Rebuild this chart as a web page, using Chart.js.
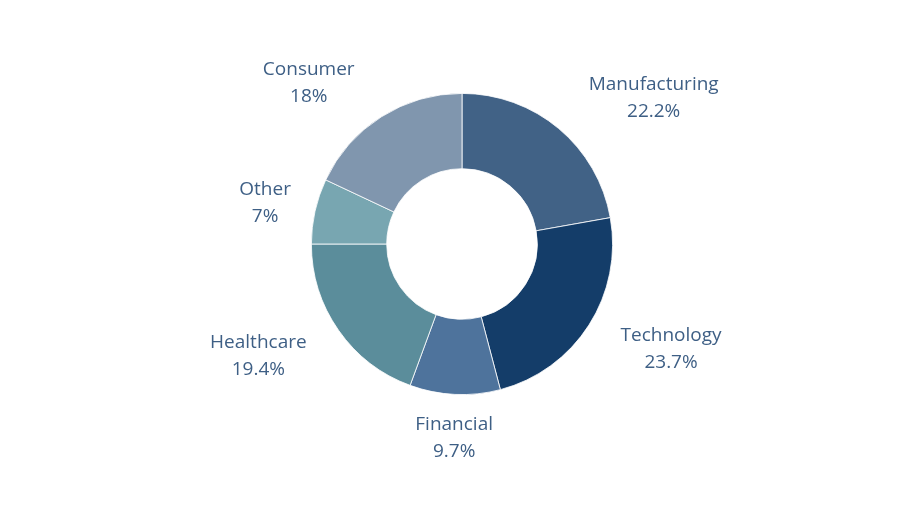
<!DOCTYPE html>
<html>
<head>
<meta charset="utf-8">
<script src="https://cdn.jsdelivr.net/npm/chart.js@4/dist/chart.umd.min.js"></script>
<style>
    html, body { margin: 0; padding: 0; background: #fff; }
    #wrap { width: 908px; height: 511px; }
</style>
</head>
<body>
<div id="wrap"><canvas id="pieChart" width="908" height="511"></canvas></div>
<script>
var sectors = ['Manufacturing', 'Technology', 'Financial', 'Healthcare', 'Other', 'Consumer'];
var shares = [22.2, 23.7, 9.7, 19.4, 7, 18];
var colors = ['#416286', '#143d69', '#4e739c', '#5b8d9b', '#78a6b1', '#8096ae'];
var textColor = '#3e5f85';

// outside labels, placed along each slice's middle angle
var outsideLabels = {
    id: 'outsideLabels',
    afterDatasetsDraw: function (chart) {
        let ctx = chart.ctx;
        let meta = chart.getDatasetMeta(0);
        ctx.save();
        ctx.font = '19px "Open Sans"';
        ctx.fillStyle = textColor;
        ctx.textAlign = 'center';
        ctx.textBaseline = 'middle';
        meta.data.forEach((arc, i) => {
            let p = arc.getProps(['x', 'y', 'startAngle', 'endAngle', 'outerRadius'], true);
            let mid = (p.startAngle + p.endAngle) / 2;
            let dx = Math.cos(mid), dy = Math.sin(mid);
            let r = p.outerRadius + 16;
            let px = p.x + dx * r, py = p.y + dy * r;
            let lines = [sectors[i], shares[i] + '%'];
            let w = Math.max(...lines.map(t => ctx.measureText(t).width));
            let h = 52;
            let cx = px;
            if (Math.abs(dx) > 0.2) {
                cx = px + Math.sign(dx) * (w / 2 + 20 * Math.abs(2 * dx * dy));
            }
            let cy = py + dy * h / 2 + 1.5;
            ctx.fillText(lines[0], cx, cy - 13.5);
            ctx.fillText(lines[1], cx, cy + 13.5);
        });
        ctx.restore();
    }
};

var ctx = document.getElementById('pieChart').getContext('2d');
var pieChart = new Chart(ctx, {
    type: 'doughnut',
    data: {
        labels: sectors,
        datasets: [{
            data: shares,
            backgroundColor: colors,
            borderColor: '#ffffff',
            borderWidth: 0.8
        }]
    },
    options: {
        responsive: false,
        animation: false,
        cutout: '50%',
        layout: { padding: { top: 93, bottom: 116, left: 311, right: 295 } },
        plugins: {
            legend: { display: false },
            tooltip: { enabled: false }
        }
    },
    plugins: [outsideLabels]
});
</script>
</body>
</html>
